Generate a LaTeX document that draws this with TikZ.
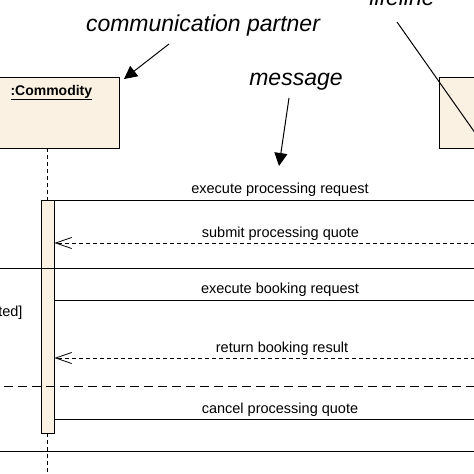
\documentclass[tikz,border=0pt]{standalone}
\usepackage{fontspec}
\setmainfont{Liberation Sans}
\usetikzlibrary{arrows.meta}
\definecolor{partnerfill}{RGB}{251,241,226}

\begin{document}
\begin{tikzpicture}[x=1pt,y=-1pt,
    partner/.style={draw, fill=partnerfill, line width=0.9pt, inner sep=0pt},
    msgline/.style={line width=0.8pt},
    replyline/.style={line width=0.8pt, dash pattern=on 4pt off 3pt, -{Straight Barb[length=16pt,width=11pt,line width=0.8pt]}},
    lifeline/.style={line width=0.8pt, dash pattern=on 4pt off 3pt},
    note/.style={font=\itshape\fontsize{23}{27}\selectfont, anchor=base},
    msglabel/.style={font=\fontsize{14.5}{17}\selectfont, anchor=base},
    pointer/.style={line width=1pt, -{Triangle[length=13pt,width=13pt]}}]
    \useasboundingbox (0,0) rectangle (474,474);
    \clip (0,0) rectangle (474,474);

    % Communication partners
    \node[partner, minimum width=142pt, minimum height=71pt] (commodity) at (48,112.5) {};
    \node[anchor=base west, font=\bfseries\fontsize{14}{17}\selectfont] (commoditylabel) at (7,95) {\underline{:Commodity}};
    \node[partner, minimum width=142pt, minimum height=71pt] (other) at (510,112.5) {};

    % Activation and lifeline
    \node[partner, minimum width=13pt, minimum height=233pt] (act) at (47.5,316.5) {};
    \coordinate (lifeend) at (47.5,474);
    \draw[lifeline] (commodity.south -| act.north) -- (act.north);
    \draw[lifeline] (act.south) -- (lifeend);
    \coordinate (otherlife) at (510,0);

    % Messages
    \node[msglabel] (m1) at (280,193) {execute processing request};
    \draw[msgline] (act.east |- 0,200) -- (otherlife |- 0,200);
    \node[msglabel] (m2) at (280.5,237) {submit processing quote};
    \draw[replyline] (otherlife |- 0,243) -- (act.east |- 0,243);
    \node[msglabel] (m3) at (280,293) {execute booking request};
    \draw[msgline] (act.east |- 0,300) -- (otherlife |- 0,300);
    \node[msglabel] (m4) at (282,352) {return booking result};
    \draw[replyline] (otherlife |- 0,358) -- (act.east |- 0,358);
    \node[msglabel] (m5) at (280,413) {cancel processing quote};
    \draw[msgline] (act.east |- 0,419) -- (otherlife |- 0,419);

    % Fragment
    \coordinate (fragleft) at (-10,0);
    \draw[line width=1pt] (fragleft |- 0,268) -- (otherlife |- 0,268);
    \draw[line width=1pt, dash pattern=on 9pt off 5pt] (fragleft |- 0,386) -- (otherlife |- 0,386);
    \draw[line width=1pt] (fragleft |- 0,451) -- (otherlife |- 0,451);
    \node[msglabel, anchor=base east] (guard) at (26,316) {[accepted]};

    % Annotations
    \node[note] (partnernote) at (203,31) {communication partner};
    \coordinate (p1) at (169,44);
    \coordinate (p2) at (124,79);
    \draw[pointer] (p1) -- (p2);
    \node[note] (messagenote) at (296,85) {message};
    \coordinate (q1) at (289,98);
    \coordinate (q2) at (279,166);
    \draw[pointer] (q1) -- (q2);
    \node[note] (lifelinenote) at (402,5) {lifeline};
    \coordinate (r1) at (397,22);
    \coordinate (r2) at (490,154);
    \draw[line width=1pt] (r1) -- (r2);
\end{tikzpicture}
\end{document}
